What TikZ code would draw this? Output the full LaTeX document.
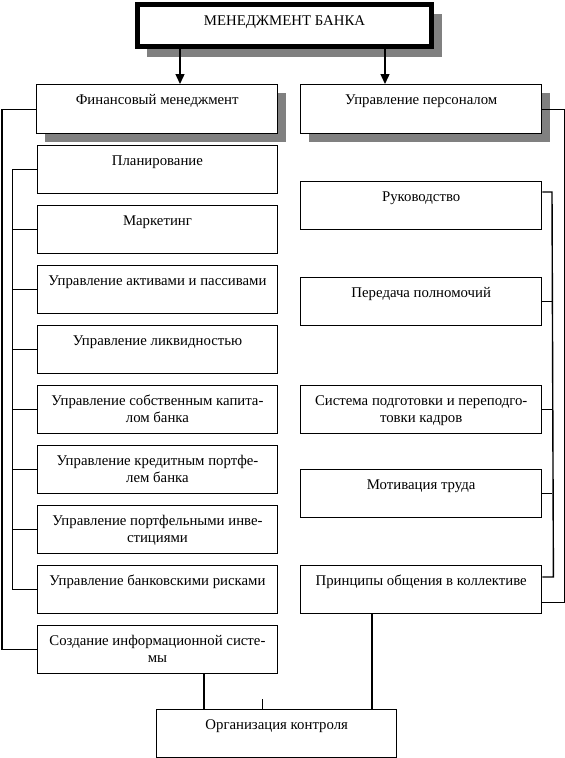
\documentclass[tikz,border=0pt]{standalone}
\usepackage{fontspec}
\setmainfont{Liberation Serif}
\usetikzlibrary{arrows.meta,calc,shadows}
\definecolor{shadowc}{RGB}{128,128,128}
\newcommand\bxt[3]{\parbox[c][#2][t]{#1}{\centering\rule{0pt}{19.5pt}#3}}
\begin{document}
\begin{tikzpicture}[x=1pt,y=-1pt,
  box/.style={draw, line width=1.4pt, inner sep=0pt, anchor=north west, fill=white,
    font=\fontsize{14.8}{17}\selectfont},
  shbox/.style={box, drop shadow={shadow xshift=8pt, shadow yshift=-8pt, fill=shadowc, opacity=1}},
  conn/.style={line width=1.4pt},
  arr/.style={line width=1.4pt,-{Triangle[width=9pt,length=10pt]}},
]
\useasboundingbox (0,0) rectangle (565,758);

% top box
\node[draw, line width=4pt, inner sep=0pt, anchor=north west, fill=white,
  drop shadow={shadow xshift=10pt, shadow yshift=-10pt, fill=shadowc, opacity=1},
  font=\fontsize{14.8}{17}\selectfont] (top) at (135,2)
  {\parbox[c][43pt][t]{295pt}{\centering\rule{0pt}{21pt}МЕНЕДЖМЕНТ БАНКА}};
\draw[line width=1.1pt] ($(top.north west)+(4,4)$) rectangle ($(top.south east)+(-4,-4)$);

% second level
\node[shbox] (fin) at (36,84) {\bxt{241pt}{49pt}{Финансовый менеджмент}};
\node[shbox] (upr) at (300,84) {\bxt{241pt}{49pt}{Управление персоналом}};

\draw[arr] ($(top.south west)+(45,0)$) coordinate (a1) -- (a1 |- fin.north);
\draw[arr] ($(top.south west)+(250,0)$) coordinate (a2) -- (a2 |- upr.north);

% left column
\node[box] (b1) at (36.5,145) {\bxt{240.5pt}{47.5pt}{Планирование}};
\node[box] (b2) at (36.5,205) {\bxt{240.5pt}{47.5pt}{Маркетинг}};
\node[box] (b3) at (36.5,265) {\bxt{240.5pt}{47.5pt}{Управление активами и пассивами}};
\node[box] (b4) at (36.5,325) {\bxt{240.5pt}{47.5pt}{Управление ликвидностью}};
\node[box] (b5) at (36.5,385) {\bxt{240.5pt}{47.5pt}{Управление собственным капита-\\лом банка}};
\node[box] (b6) at (36.5,445) {\bxt{240.5pt}{47.5pt}{Управление кредитным портфе-\\лем банка}};
\node[box] (b7) at (36.5,505) {\bxt{240.5pt}{47.5pt}{Управление портфельными инве-\\стициями}};
\node[box] (b8) at (36.5,565) {\bxt{240.5pt}{47.5pt}{Управление банковскими рисками}};
\node[box] (b9) at (36.5,625) {\bxt{240.5pt}{47.5pt}{Создание информационной систе-\\мы}};

% right column
\node[box] (r1) at (300,181) {\bxt{241pt}{48pt}{Руководство}};
\node[box] (r2) at (300,277) {\bxt{241pt}{48pt}{Передача полномочий}};
\node[box] (r3) at (300,385) {\bxt{241pt}{48pt}{Система подготовки и переподго-\\товки кадров}};
\node[box] (r4) at (300,469) {\bxt{241pt}{48pt}{Мотивация труда}};
\node[box] (r5) at (300,565) {\bxt{241pt}{48pt}{Принципы общения в коллективе}};

% bottom
\node[box] (ctrl) at (156,709) {\bxt{240pt}{48pt}{Организация контроля}};

% left brackets
\coordinate (li) at (12.5,0);
\draw[conn] (fin.west) -- ++(-34,0) |- (b9.west);
\draw[conn] (b1.west) -| (li |- b8.west) -- (b8.west);
\foreach \i in {2,...,7} \draw[conn] (b\i.west) -- (b\i.west -| li);

% right brackets
\coordinate (ri) at (552,0);
\draw[conn] ($(r1.north east)+(0,11)$) coordinate (rt) -- (rt -| ri)
  -- ($(r5.north east)+(11,12)$) -- ($(r5.north east)+(0,12)$);
\foreach \i in {2,3,4} \draw[conn] (r\i.east) -- (r\i.east -| ri);
\draw[conn] (upr.east) -| ($(r5.south east)+(22,-12)$) -- ($(r5.south east)+(0,-12)$);

% to control
\draw[conn] ($(b9.south west)+(167.5,0)$) coordinate (c1) -- (c1 |- ctrl.north);
\draw[conn] ($(r5.south west)+(72,0)$) coordinate (c2) -- (c2 |- ctrl.north);
\draw[line width=1pt] ($(ctrl.north west)+(106,0)$) -- ++(0,-10);
\end{tikzpicture}
\end{document}
